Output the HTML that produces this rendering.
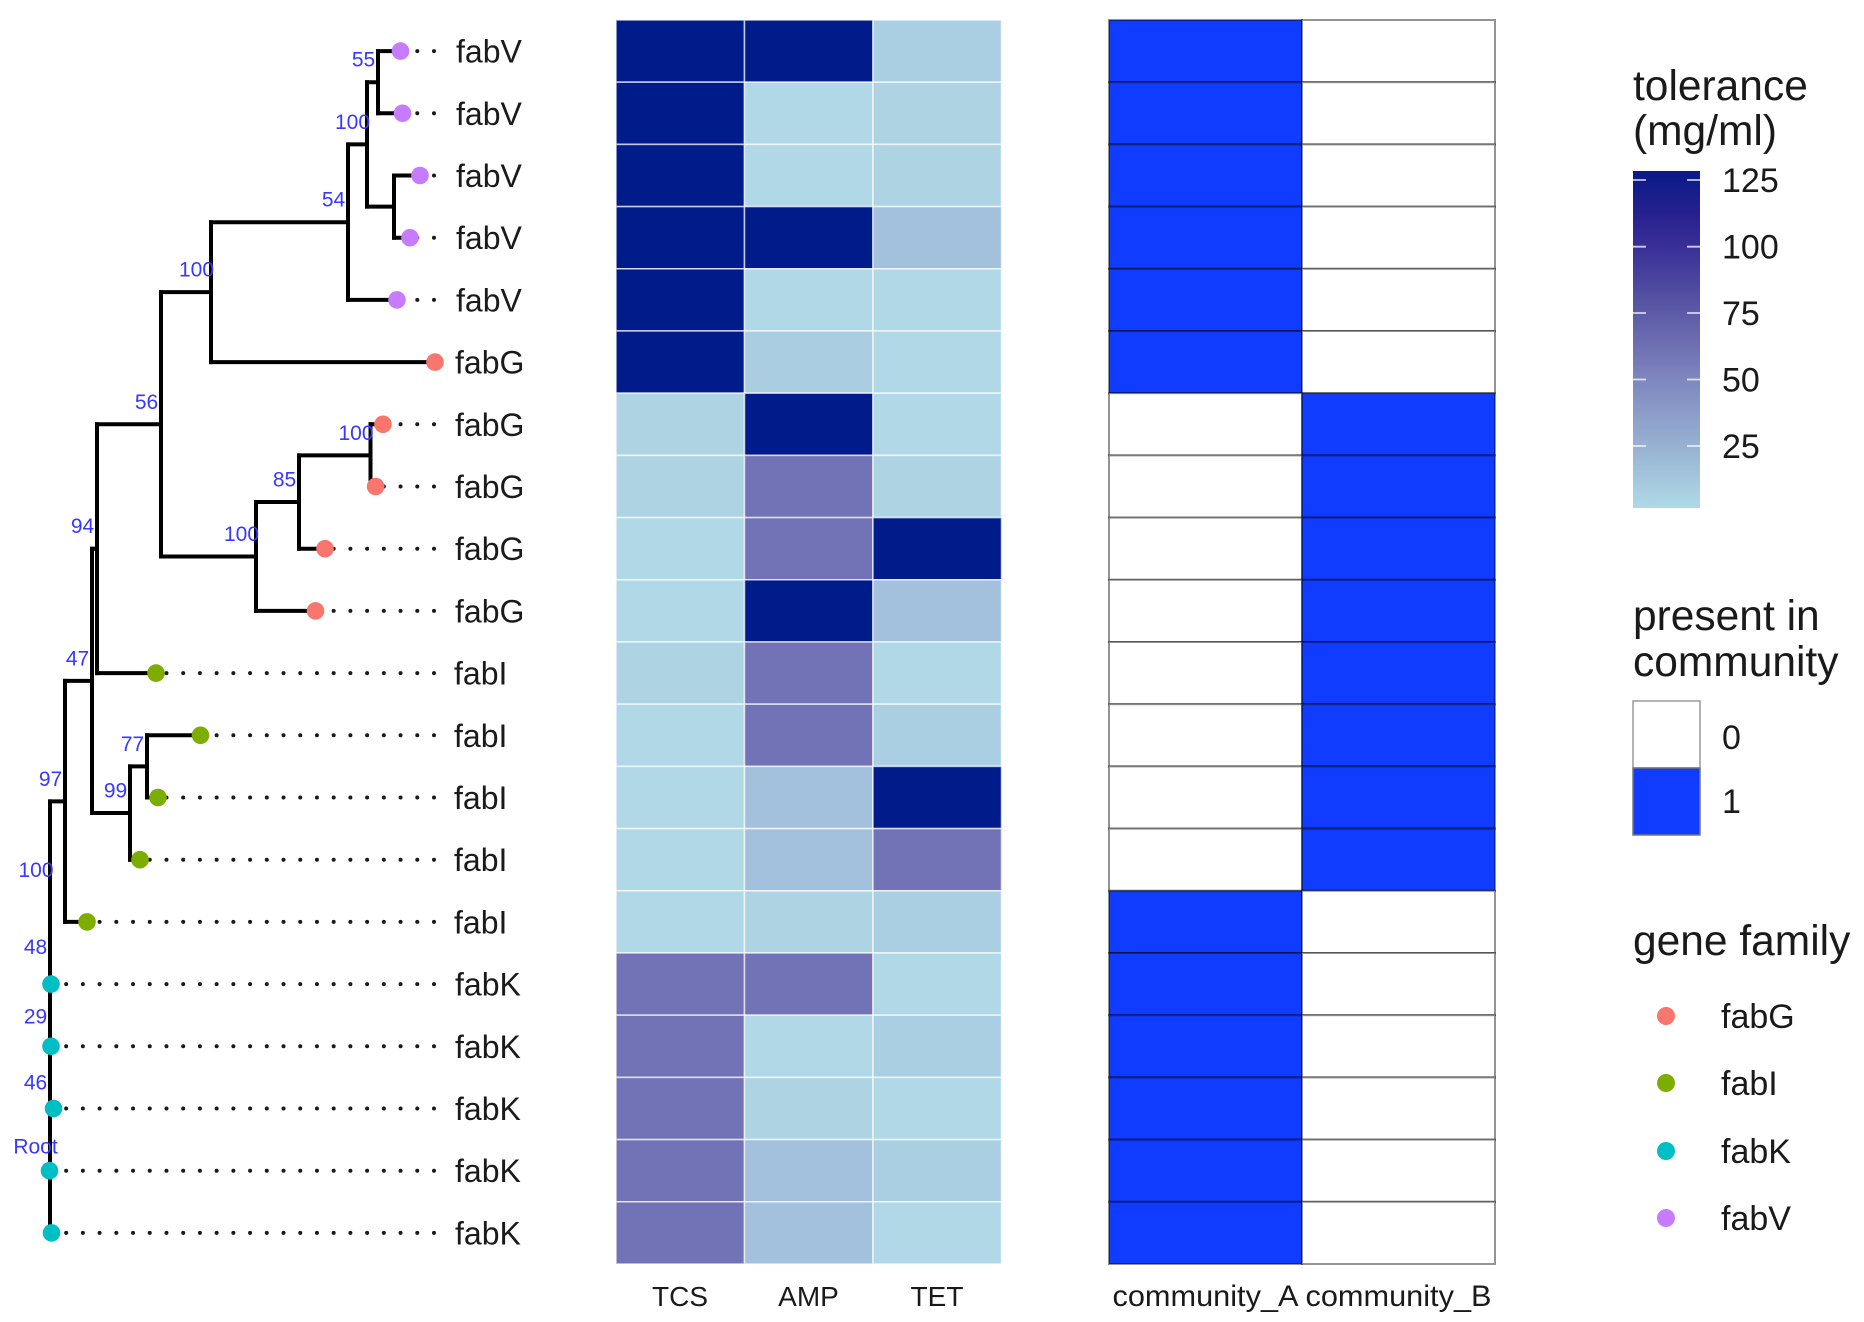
<!DOCTYPE html>
<html><head><meta charset="utf-8"><style>
html,body{margin:0;padding:0;background:#fff;}
svg{display:block;}
text{font-family:"Liberation Sans",Arial,sans-serif;}
</style></head><body>
<svg width="1864" height="1322" viewBox="0 0 1864 1322" xmlns="http://www.w3.org/2000/svg">
<defs>
<linearGradient id="cb" x1="0" y1="0" x2="0" y2="1">
<stop offset="0" stop-color="#0A1A8A"/>
<stop offset="0.03" stop-color="#101B8B"/>
<stop offset="0.12" stop-color="#25208F"/>
<stop offset="0.22" stop-color="#382E96"/>
<stop offset="0.42" stop-color="#5C5AA6"/>
<stop offset="0.52" stop-color="#6E70B2"/>
<stop offset="0.62" stop-color="#7F87BF"/>
<stop offset="0.82" stop-color="#98B2D2"/>
<stop offset="1" stop-color="#AFD9E6"/>
</linearGradient>
</defs>
<rect width="1864" height="1322" fill="#fff"/>

<!-- Heatmap 1 -->
<g stroke="rgba(255,255,255,0.65)" stroke-width="1.6">
<rect x="616" y="20" width="128.5" height="62.2" fill="#001C8A"/>
<rect x="744.5" y="20" width="128.5" height="62.2" fill="#001C8A"/>
<rect x="873" y="20" width="128.5" height="62.2" fill="#AACFE2"/>
<rect x="616" y="82.2" width="128.5" height="62.2" fill="#001C8A"/>
<rect x="744.5" y="82.2" width="128.5" height="62.2" fill="#B0D8E6"/>
<rect x="873" y="82.2" width="128.5" height="62.2" fill="#AED4E4"/>
<rect x="616" y="144.4" width="128.5" height="62.2" fill="#001C8A"/>
<rect x="744.5" y="144.4" width="128.5" height="62.2" fill="#B0D8E6"/>
<rect x="873" y="144.4" width="128.5" height="62.2" fill="#AED4E4"/>
<rect x="616" y="206.6" width="128.5" height="62.2" fill="#001C8A"/>
<rect x="744.5" y="206.6" width="128.5" height="62.2" fill="#001C8A"/>
<rect x="873" y="206.6" width="128.5" height="62.2" fill="#A3C0DC"/>
<rect x="616" y="268.8" width="128.5" height="62.2" fill="#001C8A"/>
<rect x="744.5" y="268.8" width="128.5" height="62.2" fill="#B0D8E6"/>
<rect x="873" y="268.8" width="128.5" height="62.2" fill="#B0D8E6"/>
<rect x="616" y="331" width="128.5" height="62.2" fill="#001C8A"/>
<rect x="744.5" y="331" width="128.5" height="62.2" fill="#AACDE1"/>
<rect x="873" y="331" width="128.5" height="62.2" fill="#B0D8E6"/>
<rect x="616" y="393.2" width="128.5" height="62.2" fill="#AED4E4"/>
<rect x="744.5" y="393.2" width="128.5" height="62.2" fill="#001C8A"/>
<rect x="873" y="393.2" width="128.5" height="62.2" fill="#B0D8E6"/>
<rect x="616" y="455.4" width="128.5" height="62.2" fill="#AED4E4"/>
<rect x="744.5" y="455.4" width="128.5" height="62.2" fill="#7272B6"/>
<rect x="873" y="455.4" width="128.5" height="62.2" fill="#AED4E4"/>
<rect x="616" y="517.6" width="128.5" height="62.2" fill="#B0D8E6"/>
<rect x="744.5" y="517.6" width="128.5" height="62.2" fill="#7272B6"/>
<rect x="873" y="517.6" width="128.5" height="62.2" fill="#001C8A"/>
<rect x="616" y="579.8" width="128.5" height="62.2" fill="#B0D8E6"/>
<rect x="744.5" y="579.8" width="128.5" height="62.2" fill="#001C8A"/>
<rect x="873" y="579.8" width="128.5" height="62.2" fill="#A3C0DC"/>
<rect x="616" y="642" width="128.5" height="62.2" fill="#AED4E4"/>
<rect x="744.5" y="642" width="128.5" height="62.2" fill="#7272B6"/>
<rect x="873" y="642" width="128.5" height="62.2" fill="#B0D8E6"/>
<rect x="616" y="704.2" width="128.5" height="62.2" fill="#B0D8E6"/>
<rect x="744.5" y="704.2" width="128.5" height="62.2" fill="#7272B6"/>
<rect x="873" y="704.2" width="128.5" height="62.2" fill="#AACFE2"/>
<rect x="616" y="766.4" width="128.5" height="62.2" fill="#B0D8E6"/>
<rect x="744.5" y="766.4" width="128.5" height="62.2" fill="#A3C0DC"/>
<rect x="873" y="766.4" width="128.5" height="62.2" fill="#001C8A"/>
<rect x="616" y="828.6" width="128.5" height="62.2" fill="#B0D8E6"/>
<rect x="744.5" y="828.6" width="128.5" height="62.2" fill="#A3C0DC"/>
<rect x="873" y="828.6" width="128.5" height="62.2" fill="#7272B6"/>
<rect x="616" y="890.8" width="128.5" height="62.2" fill="#B0D8E6"/>
<rect x="744.5" y="890.8" width="128.5" height="62.2" fill="#AED4E4"/>
<rect x="873" y="890.8" width="128.5" height="62.2" fill="#AACFE2"/>
<rect x="616" y="953" width="128.5" height="62.2" fill="#7272B6"/>
<rect x="744.5" y="953" width="128.5" height="62.2" fill="#7272B6"/>
<rect x="873" y="953" width="128.5" height="62.2" fill="#B0D8E6"/>
<rect x="616" y="1015.2" width="128.5" height="62.2" fill="#7272B6"/>
<rect x="744.5" y="1015.2" width="128.5" height="62.2" fill="#B0D8E6"/>
<rect x="873" y="1015.2" width="128.5" height="62.2" fill="#AACFE2"/>
<rect x="616" y="1077.4" width="128.5" height="62.2" fill="#7272B6"/>
<rect x="744.5" y="1077.4" width="128.5" height="62.2" fill="#AED4E4"/>
<rect x="873" y="1077.4" width="128.5" height="62.2" fill="#B0D8E6"/>
<rect x="616" y="1139.6" width="128.5" height="62.2" fill="#7272B6"/>
<rect x="744.5" y="1139.6" width="128.5" height="62.2" fill="#A3C0DC"/>
<rect x="873" y="1139.6" width="128.5" height="62.2" fill="#AACFE2"/>
<rect x="616" y="1201.8" width="128.5" height="62.2" fill="#7272B6"/>
<rect x="744.5" y="1201.8" width="128.5" height="62.2" fill="#A3C0DC"/>
<rect x="873" y="1201.8" width="128.5" height="62.2" fill="#B0D8E6"/>
</g>

<!-- Heatmap 2 -->
<g stroke="rgba(0,0,0,0.42)" stroke-width="2">
<rect x="1109" y="20" width="193" height="62.2" fill="#103CFF"/><rect x="1302" y="20" width="193" height="62.2" fill="#fff"/>
<rect x="1109" y="82.2" width="193" height="62.2" fill="#103CFF"/><rect x="1302" y="82.2" width="193" height="62.2" fill="#fff"/>
<rect x="1109" y="144.4" width="193" height="62.2" fill="#103CFF"/><rect x="1302" y="144.4" width="193" height="62.2" fill="#fff"/>
<rect x="1109" y="206.6" width="193" height="62.2" fill="#103CFF"/><rect x="1302" y="206.6" width="193" height="62.2" fill="#fff"/>
<rect x="1109" y="268.8" width="193" height="62.2" fill="#103CFF"/><rect x="1302" y="268.8" width="193" height="62.2" fill="#fff"/>
<rect x="1109" y="331" width="193" height="62.2" fill="#103CFF"/><rect x="1302" y="331" width="193" height="62.2" fill="#fff"/>
<rect x="1109" y="393.2" width="193" height="62.2" fill="#fff"/><rect x="1302" y="393.2" width="193" height="62.2" fill="#103CFF"/>
<rect x="1109" y="455.4" width="193" height="62.2" fill="#fff"/><rect x="1302" y="455.4" width="193" height="62.2" fill="#103CFF"/>
<rect x="1109" y="517.6" width="193" height="62.2" fill="#fff"/><rect x="1302" y="517.6" width="193" height="62.2" fill="#103CFF"/>
<rect x="1109" y="579.8" width="193" height="62.2" fill="#fff"/><rect x="1302" y="579.8" width="193" height="62.2" fill="#103CFF"/>
<rect x="1109" y="642" width="193" height="62.2" fill="#fff"/><rect x="1302" y="642" width="193" height="62.2" fill="#103CFF"/>
<rect x="1109" y="704.2" width="193" height="62.2" fill="#fff"/><rect x="1302" y="704.2" width="193" height="62.2" fill="#103CFF"/>
<rect x="1109" y="766.4" width="193" height="62.2" fill="#fff"/><rect x="1302" y="766.4" width="193" height="62.2" fill="#103CFF"/>
<rect x="1109" y="828.6" width="193" height="62.2" fill="#fff"/><rect x="1302" y="828.6" width="193" height="62.2" fill="#103CFF"/>
<rect x="1109" y="890.8" width="193" height="62.2" fill="#103CFF"/><rect x="1302" y="890.8" width="193" height="62.2" fill="#fff"/>
<rect x="1109" y="953" width="193" height="62.2" fill="#103CFF"/><rect x="1302" y="953" width="193" height="62.2" fill="#fff"/>
<rect x="1109" y="1015.2" width="193" height="62.2" fill="#103CFF"/><rect x="1302" y="1015.2" width="193" height="62.2" fill="#fff"/>
<rect x="1109" y="1077.4" width="193" height="62.2" fill="#103CFF"/><rect x="1302" y="1077.4" width="193" height="62.2" fill="#fff"/>
<rect x="1109" y="1139.6" width="193" height="62.2" fill="#103CFF"/><rect x="1302" y="1139.6" width="193" height="62.2" fill="#fff"/>
<rect x="1109" y="1201.8" width="193" height="62.2" fill="#103CFF"/><rect x="1302" y="1201.8" width="193" height="62.2" fill="#fff"/>
</g>

<!-- Axis labels -->
<g font-size="28" fill="#1a1a1a" text-anchor="middle">
<text x="680" y="1306">TCS</text>
<text x="808.5" y="1306">AMP</text>
<text x="937" y="1306">TET</text>
</g>
<g font-size="30" fill="#1a1a1a" text-anchor="middle">
<text x="1205.5" y="1306" textLength="186" lengthAdjust="spacingAndGlyphs">community_A</text>
<text x="1398.5" y="1306" textLength="186" lengthAdjust="spacingAndGlyphs">community_B</text>
</g>

<!-- Dotted tip alignment lines -->
<g stroke="#1a1a1a" stroke-width="4" stroke-linecap="round" stroke-dasharray="0.01 16.71" fill="none">
<line x1="434" y1="51.1" x2="400.5" y2="51.1"/>
<line x1="434" y1="113.3" x2="402.5" y2="113.3"/>
<line x1="434" y1="175.5" x2="420" y2="175.5"/>
<line x1="434" y1="237.7" x2="410" y2="237.7"/>
<line x1="434" y1="299.9" x2="397" y2="299.9"/>
<line x1="434" y1="424.3" x2="383" y2="424.3"/>
<line x1="434" y1="486.5" x2="375.6" y2="486.5"/>
<line x1="434" y1="548.7" x2="325" y2="548.7"/>
<line x1="434" y1="610.9" x2="315.5" y2="610.9"/>
<line x1="434" y1="673.1" x2="156" y2="673.1"/>
<line x1="434" y1="735.3" x2="200.5" y2="735.3"/>
<line x1="434" y1="797.5" x2="158" y2="797.5"/>
<line x1="434" y1="859.7" x2="140" y2="859.7"/>
<line x1="434" y1="921.9" x2="87" y2="921.9"/>
<line x1="434" y1="984.1" x2="51" y2="984.1"/>
<line x1="434" y1="1046.3" x2="51" y2="1046.3"/>
<line x1="434" y1="1108.5" x2="53" y2="1108.5"/>
<line x1="434" y1="1170.7" x2="50" y2="1170.7"/>
<line x1="434" y1="1232.9" x2="51" y2="1232.9"/>
</g>

<!-- Tree -->
<g stroke="#000" stroke-width="4" stroke-linecap="square" fill="none">
<path d="M378 51.1V113.3 M394 175.5V237.7 M367 82.2V206.6 M348 144.4V299.9 M211 222.2V362.1 M370.5 424.3V486.5 M299 455.4V548.7 M256 502V610.9 M161 292.1V556.5 M97 424.3V673.1 M147 735.3V797.5 M130 766.4V859.7 M92 548.7V813 M65 680.9V921.9 M50 801.4V1232.9"/>
<path d="M378 51.1H400.5 M378 113.3H402.5 M367 82.2H378 M394 175.5H420 M394 237.7H410 M367 206.6H394 M348 144.4H367 M348 299.9H397 M211 222.2H348 M211 362.1H435 M161 292.1H211 M370.5 424.3H383 M370.5 486.5H375.6 M299 455.4H370.5 M299 548.7H325 M256 502H299 M256 610.9H315.5 M161 556.5H256 M97 424.3H161 M97 673.1H156 M92 548.7H97 M147 735.3H200.5 M147 797.5H158 M130 766.4H147 M130 859.7H140 M92 813H130 M65 680.9H92 M65 921.9H87 M50 801.4H65"/>
</g>

<!-- Tip points -->
<g>
<circle cx="400.5" cy="51.1" r="8.8" fill="#C77CFF"/>
<circle cx="402.5" cy="113.3" r="8.8" fill="#C77CFF"/>
<circle cx="420" cy="175.5" r="8.8" fill="#C77CFF"/>
<circle cx="410" cy="237.7" r="8.8" fill="#C77CFF"/>
<circle cx="397" cy="299.9" r="8.8" fill="#C77CFF"/>
<circle cx="435" cy="362.1" r="8.8" fill="#F8766D"/>
<circle cx="383" cy="424.3" r="8.8" fill="#F8766D"/>
<circle cx="375.6" cy="486.5" r="8.8" fill="#F8766D"/>
<circle cx="325" cy="548.7" r="8.8" fill="#F8766D"/>
<circle cx="315.5" cy="610.9" r="8.8" fill="#F8766D"/>
<circle cx="156" cy="673.1" r="8.8" fill="#7CAE00"/>
<circle cx="200.5" cy="735.3" r="8.8" fill="#7CAE00"/>
<circle cx="158" cy="797.5" r="8.8" fill="#7CAE00"/>
<circle cx="140" cy="859.7" r="8.8" fill="#7CAE00"/>
<circle cx="87" cy="921.9" r="8.8" fill="#7CAE00"/>
<circle cx="51" cy="984.1" r="8.8" fill="#00BFC4"/>
<circle cx="51" cy="1046.3" r="8.8" fill="#00BFC4"/>
<circle cx="53.5" cy="1108.5" r="8.8" fill="#00BFC4"/>
<circle cx="49.5" cy="1170.7" r="8.8" fill="#00BFC4"/>
<circle cx="51.5" cy="1232.9" r="8.8" fill="#00BFC4"/>
</g>

<!-- Node labels -->
<g font-size="21" fill="#3838FF" text-anchor="middle">
<text x="363.5" y="66.7">55</text>
<text x="352.5" y="128.9">100</text>
<text x="333.5" y="206.7">54</text>
<text x="196.5" y="276.6">100</text>
<text x="356" y="439.9">100</text>
<text x="284.5" y="486.5">85</text>
<text x="241.5" y="541">100</text>
<text x="146.5" y="408.8">56</text>
<text x="82.5" y="533.2">94</text>
<text x="132.5" y="750.9">77</text>
<text x="115.5" y="797.5">99</text>
<text x="77.5" y="665.4">47</text>
<text x="50.5" y="785.9">97</text>
<text x="36" y="877.2">100</text>
<text x="35.5" y="954">48</text>
<text x="35.5" y="1023.5">29</text>
<text x="35.5" y="1089.3">46</text>
<text x="35.5" y="1153.3">Root</text>
</g>

<!-- Tip labels -->
<g font-size="32" fill="#1a1a1a">
<text x="456" y="62.6">fabV</text>
<text x="456" y="124.8">fabV</text>
<text x="456" y="187">fabV</text>
<text x="456" y="249.2">fabV</text>
<text x="456" y="311.4">fabV</text>
<text x="455" y="373.6">fabG</text>
<text x="455" y="435.8">fabG</text>
<text x="455" y="498">fabG</text>
<text x="455" y="560.2">fabG</text>
<text x="455" y="622.4">fabG</text>
<text x="454" y="684.6">fabI</text>
<text x="454" y="746.8">fabI</text>
<text x="454" y="809">fabI</text>
<text x="454" y="871.2">fabI</text>
<text x="454" y="933.4">fabI</text>
<text x="455" y="995.6">fabK</text>
<text x="455" y="1057.8">fabK</text>
<text x="455" y="1120">fabK</text>
<text x="455" y="1182.2">fabK</text>
<text x="455" y="1244.4">fabK</text>
</g>

<!-- Legend: tolerance -->
<g font-size="42.5" fill="#1a1a1a">
<text x="1633" y="100">tolerance</text>
<text x="1633" y="145">(mg/ml)</text>
</g>
<rect x="1633" y="171" width="67" height="337" fill="url(#cb)"/>
<g stroke="rgba(255,255,255,0.75)" stroke-width="1.8">
<path d="M1633 180H1646 M1687 180H1700 M1633 246.7H1646 M1687 246.7H1700 M1633 313H1646 M1687 313H1700 M1633 379.5H1646 M1687 379.5H1700 M1633 446H1646 M1687 446H1700"/>
</g>
<g font-size="34" fill="#1a1a1a">
<text x="1722" y="192">125</text>
<text x="1722" y="258.7">100</text>
<text x="1722" y="325">75</text>
<text x="1722" y="391.5">50</text>
<text x="1722" y="458">25</text>
</g>

<!-- Legend: present in community -->
<g font-size="42.5" fill="#1a1a1a">
<text x="1633" y="630">present in</text>
<text x="1633" y="676">community</text>
</g>
<rect x="1633" y="701" width="67" height="67" fill="#fff" stroke="#9a9a9a" stroke-width="1.5"/>
<rect x="1633" y="768" width="67" height="67" fill="#103CFF" stroke="#777" stroke-width="1.5"/>
<g font-size="34" fill="#1a1a1a">
<text x="1722" y="749">0</text>
<text x="1722" y="813">1</text>
</g>

<!-- Legend: gene family -->
<text x="1633" y="955" font-size="42.5" fill="#1a1a1a">gene family</text>
<circle cx="1666" cy="1016" r="9" fill="#F8766D"/>
<circle cx="1666" cy="1083" r="9" fill="#7CAE00"/>
<circle cx="1666" cy="1151" r="9" fill="#00BFC4"/>
<circle cx="1666" cy="1218" r="9" fill="#C77CFF"/>
<g font-size="34" fill="#1a1a1a">
<text x="1721" y="1028">fabG</text>
<text x="1721" y="1095">fabI</text>
<text x="1721" y="1163">fabK</text>
<text x="1721" y="1230">fabV</text>
</g>
</svg>
</body></html>
